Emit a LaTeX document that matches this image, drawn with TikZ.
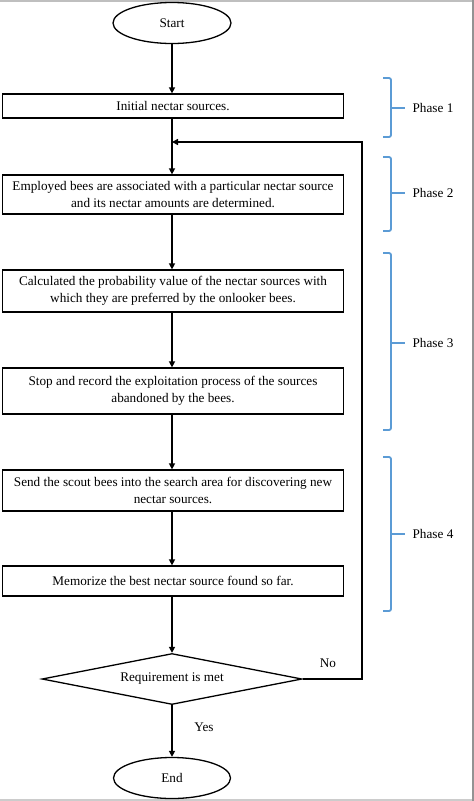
\documentclass[tikz,border=0pt]{standalone}
\usepackage{fontspec}
\setmainfont{Liberation Serif}
\usetikzlibrary{shapes.geometric,arrows.meta}
\definecolor{bracecol}{HTML}{5B9BD5}
\begin{document}
\begin{tikzpicture}[x=1pt,y=-1pt,
  every node/.style={font=\fontsize{13.2}{17}\selectfont},
  stepbox/.style={draw,line width=1.3pt,rectangle,align=center,minimum width=341pt,inner sep=0pt},
  term/.style={draw,line width=1.3pt,ellipse,minimum width=118pt,minimum height=41pt,inner sep=0pt},
  decide/.style={draw,line width=1.3pt,diamond,aspect=5,minimum width=260pt,minimum height=51pt,inner sep=0pt},
  arr/.style={line width=1.5pt,-{Triangle[length=6pt,width=6pt]}},
  phbrace/.style={draw=bracecol,line width=1.8pt,rounded corners=2pt},
  phlabel/.style={font=\fontsize{13.2}{17}\selectfont}]
\useasboundingbox (0,0) rectangle (474,801);
% frame
\fill[gray!50] (0,0) rectangle (474,2);
\fill[gray!85] (472,0) rectangle (474,801);
\fill[gray!40] (0,799) rectangle (472,801);

\node[term] (start) at (172,23) {Start};
\node[stepbox,minimum height=24pt] (b1) at (173,106) {Initial nectar sources.};
\node[stepbox,minimum height=39pt] (b2) at (173,194.5) {Employed bees are associated with a particular nectar source\\and its nectar amounts are determined.};
\node[stepbox,minimum height=42pt] (b3) at (173,291) {Calculated the probability value of the nectar sources with\\which they are preferred by the onlooker bees.};
\node[stepbox,minimum height=46pt] (b4) at (173,391) {Stop and record the exploitation process of the sources\\abandoned by the bees.};
\node[stepbox,minimum height=41pt] (b5) at (173,490.5) {Send the scout bees into the search area for discovering new\\nectar sources.};
\node[stepbox,minimum height=30pt] (b6) at (173,581) {Memorize the best nectar source found so far.};
\node[decide] (dec) at (172,679) {Requirement is met};
\node[term,minimum width=117pt] (end) at (172,778) {End};

\coordinate (lp) at (362,142);
\coordinate (mj) at (172,142);

\draw[arr] (start.south) -- (start.south |- b1.north);
\draw[line width=1.5pt] (start.south |- b1.south) -- (mj);
\draw[arr] (mj) -- (start.south |- b2.north);
\draw[arr] (start.south |- b2.south) -- (start.south |- b3.north);
\draw[arr] (start.south |- b3.south) -- (start.south |- b4.north);
\draw[arr] (start.south |- b4.south) -- (start.south |- b5.north);
\draw[arr] (start.south |- b5.south) -- (start.south |- b6.north);
\draw[arr] (start.south |- b6.south) -- (dec.north);
\draw[arr] (dec.south) -- (end.north);
\draw[arr] (dec.east) -| (lp) -- (mj);

\node (no) at (328,663) {No};
\node (yes) at (204,727) {Yes};

% phase braces
\foreach \t/\b/\m/\n in {78/137/108/1,157/231/193/2,253/430/343/3,457/611/534/4}{
  \draw[phbrace] (383,\t) -- (391,\t) -- (391,\b) -- (383,\b);
  \draw[draw=bracecol,line width=1.8pt] (391,\m) -- (405,\m);
  \node[phlabel] at (433,\m) {Phase \n};
}
\end{tikzpicture}
\end{document}
